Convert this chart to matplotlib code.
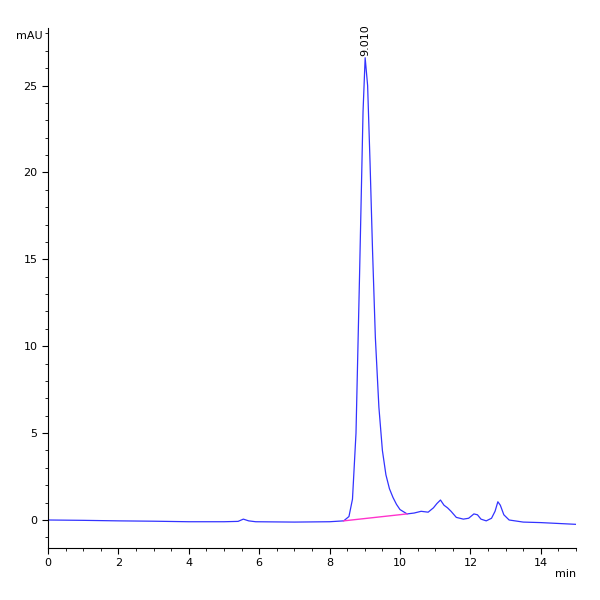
import matplotlib
matplotlib.use("Agg")
import matplotlib.pyplot as plt
from matplotlib.ticker import MultipleLocator

# chromatogram trace
time_min = [0.0, 1.0, 2.0, 3.0, 4.0, 5.0, 5.4, 5.55, 5.7, 5.9, 7.0, 8.0, 8.4, 8.55,
            8.65, 8.75, 8.85, 8.95, 9.01, 9.08, 9.15, 9.22, 9.3, 9.4, 9.5, 9.6,
            9.7, 9.8, 9.9, 10.0, 10.2, 10.4, 10.6, 10.8, 10.95, 11.05, 11.15,
            11.25, 11.35, 11.45, 11.6, 11.8, 11.95, 12.1, 12.2, 12.3, 12.45,
            12.6, 12.7, 12.78, 12.85, 12.95, 13.1, 13.5, 14.0, 14.5, 15.0]
mau = [0.0, -0.02, -0.05, -0.07, -0.1, -0.1, -0.08, 0.05, -0.05, -0.1, -0.12, -0.1,
       -0.05, 0.2, 1.2, 5.0, 14.0, 23.5, 26.6, 25.0, 20.5, 15.5, 10.5, 6.5, 4.0,
       2.6, 1.8, 1.3, 0.9, 0.6, 0.35, 0.4, 0.5, 0.45, 0.7, 0.95, 1.15, 0.85,
       0.7, 0.5, 0.15, 0.05, 0.1, 0.35, 0.3, 0.05, -0.05, 0.1, 0.5, 1.05,
       0.85, 0.3, 0.0, -0.12, -0.15, -0.2, -0.25]
baseline_t = [8.4, 10.2]
baseline_y = [-0.05, 0.35]
peak_t = 9.010
peak_h = 26.6

fig = plt.figure(figsize=(6, 6), dpi=100)
ax = fig.add_axes([0.08, 0.087, 0.88, 0.866])
ax.plot(time_min, mau, color="#3333ff", lw=0.9)
ax.plot(baseline_t, baseline_y, color="#ff33cc", lw=1.0)
ax.text(peak_t, peak_h + 0.1, "9.010", rotation=90, ha="center", va="bottom",
        fontsize=8)

ax.set_xlim(0, 15)
ax.set_ylim(-1.6, 28.3)
ax.xaxis.set_major_locator(MultipleLocator(2))
ax.xaxis.set_minor_locator(MultipleLocator(0.5))
ax.yaxis.set_major_locator(MultipleLocator(5))
ax.yaxis.set_minor_locator(MultipleLocator(1))
ax.set_yticks([0, 5, 10, 15, 20, 25])
for s in ["top", "right"]:
    ax.spines[s].set_visible(False)
ax.tick_params(labelsize=8, length=4)
ax.tick_params(which="minor", length=2)
ax.text(-0.01, 0.985, "mAU", transform=ax.transAxes, ha="right", va="center", fontsize=8)
ax.text(1.0, -0.04, "min", transform=ax.transAxes, ha="right", va="top", fontsize=8)

fig.savefig("out.png", dpi=100)
